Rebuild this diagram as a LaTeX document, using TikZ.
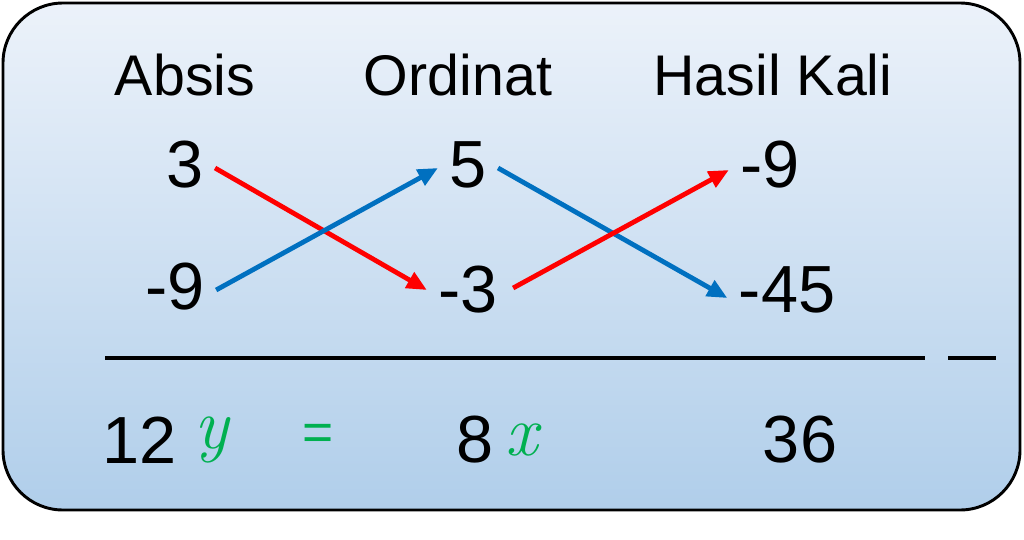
\documentclass[tikz,border=0pt]{standalone}
\usepackage{fontspec}
\setmainfont{Liberation Sans}
\usetikzlibrary{arrows.meta,calc}
\tikzset{every picture/.style={line width=0.75pt}}
\definecolor{arred}{RGB}{255,0,0}
\definecolor{arblue}{RGB}{0,112,192}
\definecolor{grn}{RGB}{0,176,80}
\definecolor{bgtop}{RGB}{236,242,250}
\definecolor{bgbot}{RGB}{176,206,234}
\tikzset{
  head/.style={anchor=center,inner sep=0.75pt,font=\fontsize{43}{46}\selectfont},
  num/.style={anchor=center,inner sep=0.75pt,font=\fontsize{50}{54}\selectfont},
  hand/.style={anchor=center,inner sep=0.75pt,text=grn,font=\fontfamily{lmr}\fontsize{54}{58}\selectfont\itshape},
  arr/.style={line width=3.6pt,-{Triangle[length=15pt,width=13pt]}}
}
\begin{document}
\begin{tikzpicture}[x=0.75pt,y=0.75pt,yscale=-1,xscale=1]
\useasboundingbox (0,0) rectangle (1024,539);
%Shape: Rounded Rectangle
\draw [line width=2.2pt,top color=bgtop,bottom color=bgbot,rounded corners=45pt] (3,3) rectangle (1020,510);

% Text Node
\node [head] (absis) at (185,75) {Absis};
\node [head] (ordinat) at (458,75) {Ordinat};
\node [head] (hasil) at (773,75) {Hasil Kali};
% Text Node
\node [num] (a1) at (185,165) {3};
\node [num] (a2) at (175,287) {-9};
\node [num] (o1) at (468,165) {5};
\node [num] (o2) at (468,290) {-3};
\node [num] (h1) at (770,165) {-9};
\node [num] (h2) at (787,290) {-45};

%Straight Lines
\draw [arr,color=arred] ($(a1.east)+(10,3)$) -- ($(o2.west)+(-10,0)$) ;
\draw [arr,color=arblue] ($(a2.east)+(10,3)$) -- ($(o1.west)+(-10,3)$) ;
\draw [arr,color=arblue] ($(o1.east)+(10,3)$) -- ($(h2.west)+(-10,8)$) ;
\draw [arr,color=arred] ($(o2.east)+(14,-2)$) -- ($(h1.west)+(-10,5)$) ;

%Straight Lines
\coordinate (l1) at (105,358);
\coordinate (l2) at (925,358);
\coordinate (l3) at (948,358);
\coordinate (l4) at (996,358);
\draw [line width=2.6pt] (l1) -- (l2) ;
\draw [line width=2.6pt] (l3) -- (l4) ;

% Text Node
\node [num] (b1) at (140,440) {12};
\node [hand] (y) at (212,440) {y};
\node [hand,font=\fontsize{40}{44}\selectfont] (eq) at (318,437) {=};
\node [num] (b2) at (475,440) {8};
\node [hand] (x) at (522,440) {x};
\node [num] (b3) at (800,440) {36};
\end{tikzpicture}
\end{document}
